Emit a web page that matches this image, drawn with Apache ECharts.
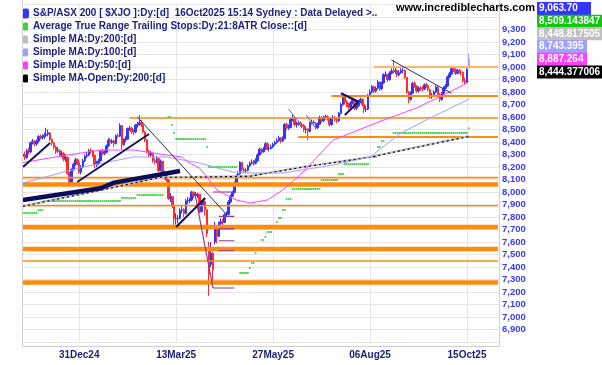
<!DOCTYPE html>
<html><head><meta charset="utf-8">
<script src="https://cdn.jsdelivr.net/npm/echarts@6/dist/echarts.min.js"></script>
<style>html,body{margin:0;padding:0;background:#fff}#c{width:602px;height:365px}</style>
</head><body><div id="c"></div>
<script>
// ---------- DATA ----------
const firstDay = '2024-11-18';
const holidays = ['2024-12-25','2024-12-26','2025-01-01','2025-01-27','2025-04-18','2025-04-21','2025-04-25','2025-06-09'];
const tradingDays = 231;
const emptySlots = 15;

const opens = [8286,8302,8275,8332,8320,8394,8406,8384,8407,8444,
8436,8443,8455,8462,8474,8420,8393,8360,8327,8330,8296,8309,8263,8277,8149,8067,8181,8222,8258,8235,
8159,8201,8250,8286,8295,8330,8329,8294,8219,8230,8249,8327,8310,8318,8370,8415,8397,8409,8388,8450,8447,
8532,8379,8417,8423,8507,8511,8482,8480,8535,8540,8555,8538,8481,8419,8322,8296,8308,8251,8240,8269,
8172,8245,8140,8141,8095,7948,7962,7890,7786,7789,7790,7854,7860,7829,7930,7931,7936,7999,7970,7981,7982,
7843,7925,7925,7859,7540,7420,7510,7600,7710,7646,7749,7762,7758,7819,7820,7920,7968,7997,8071,
8126,8145,8238,8178,8170,8174,8208,8231,8238,8230,8250,8297,8343,8321,8343,8386,8348,8348,8361,8380,8396,8409,
8434,8408,8426,8542,8515,8515,8580,8588,8540,8548,8550,8540,8535,8500,8505,8483,8555,8560,8550,8514,
8542,8597,8570,8596,8603,8590,8539,8590,8596,8580,8570,8630,8700,8757,8720,8700,8680,8710,8740,8670,8690,8720,8742,
8700,8662,8663,8776,8800,8843,8807,8830,8880,8826,8873,8938,8938,8900,8950,8968,8967,8970,8936,8954,8973,
8973,8917,8800,8740,8790,8871,8848,8808,8831,8830,8824,8858,8850,8820,8760,8770,8800,8840,8780,8740,8790,8830,
8848,8920,8945,8987,8980,8950,8970,8960,8958,8890,8880,8990];
const closes = [8302,8275,8332,8320,8394,8406,8384,8407,8444,8436,
8443,8455,8462,8474,8420,8393,8360,8327,8330,8296,8309,8263,8277,8149,8067,8181,8222,8258,8235,8159,
8201,8250,8286,8295,8330,8329,8294,8219,8230,8249,8327,8310,8318,8370,8415,8397,8409,8388,8450,8447,8532,
8379,8417,8423,8507,8511,8482,8480,8535,8540,8555,8538,8481,8419,8322,8296,8308,8251,8240,8269,8172,
8245,8140,8141,8095,7948,7962,7890,7786,7789,7790,7854,7860,7829,7930,7931,7936,7999,7970,7981,7982,7843,
7925,7925,7859,7667,7343,7510,7375,7710,7646,7749,7762,7758,7819,7820,7920,7968,7997,8071,8126,
8145,8238,8178,8170,8174,8208,8231,8238,8230,8250,8297,8343,8321,8343,8386,8348,8348,8361,8380,8396,8409,8434,
8408,8426,8542,8515,8515,8580,8588,8540,8548,8550,8540,8535,8500,8505,8483,8555,8560,8550,8514,8542,
8597,8570,8596,8603,8590,8539,8590,8596,8580,8570,8630,8700,8757,8720,8700,8680,8710,8740,8670,8690,8720,8742,8700,
8662,8663,8776,8800,8843,8807,8830,8880,8826,8873,8938,8938,8900,8950,8968,8967,8970,8936,8954,8973,8973,
8917,8800,8740,8790,8871,8848,8808,8831,8830,8824,8858,8850,8820,8760,8770,8800,8840,8780,8740,8790,8830,8848,
8920,8945,8987,8980,8950,8970,8960,8958,8890,8880,8980,9063.7];
const highs = [8330,8325,8345,8355,8400,8425,8415,8420,8455,8460,
8460,8475,8514,8500,8480,8430,8400,8370,8360,8345,8330,8320,8300,8285,8160,8190,8235,8275,8270,8240,
8215,8265,8300,8320,8345,8350,8335,8300,8250,8265,8335,8345,8335,8380,8430,8430,8425,8420,8460,8470,8550,
8532,8430,8445,8515,8530,8520,8500,8545,8560,8615,8575,8545,8490,8425,8340,8330,8315,8270,8290,8275,
8260,8250,8170,8160,8100,7990,7970,7900,7830,7815,7870,7885,7870,7945,7960,7955,8010,8005,8000,7995,7985,
7935,7950,7930,7865,7600,7600,7520,7760,7720,7760,7790,7785,7830,7845,7935,7980,8010,8085,8140,
8165,8245,8240,8195,8190,8220,8245,8260,8255,8270,8310,8355,8350,8360,8400,8395,8370,8380,8395,8410,8430,8450,
8440,8445,8550,8555,8540,8595,8620,8595,8565,8570,8565,8555,8545,8525,8510,8565,8580,8575,8560,8555,
8610,8605,8610,8620,8615,8595,8600,8615,8610,8595,8640,8715,8776,8765,8735,8715,8725,8755,8745,8705,8735,8755,8748,
8705,8690,8785,8820,8855,8850,8845,8895,8885,8885,8950,8965,8945,8965,8990,9054,8995,8980,8975,8990,8995,
8980,8920,8810,8805,8880,8885,8855,8845,8850,8845,8870,8875,8860,8825,8790,8815,8855,8845,8790,8800,8845,8865,
8930,8960,9010,9000,8990,8985,8985,8980,8965,8915,8990,9110];
const lows = [8260,8255,8265,8300,8310,8380,8365,8370,8395,8420,
8420,8425,8440,8445,8405,8370,8340,8305,8310,8280,8280,8245,8240,8140,8050,8060,8170,8210,8215,8145,
8140,8190,8240,8270,8285,8305,8280,8190,8200,8215,8245,8295,8295,8310,8360,8380,8385,8360,8380,8430,8440,
8340,8370,8400,8420,8490,8465,8455,8470,8515,8530,8520,8470,8400,8310,8280,8280,8235,8220,8230,8160,
8165,8120,8100,8080,7935,7920,7870,7707,7740,7750,7780,7830,7800,7820,7905,7910,7925,7950,7955,7950,7830,
7835,7890,7810,7640,7169,7400,7290,7580,7590,7640,7735,7730,7750,7800,7815,7910,7960,7990,8060,
8115,8140,8165,8150,8150,8165,8200,8220,8210,8220,8240,8290,8305,8315,8335,8335,8325,8340,8350,8370,8385,8400,
8390,8400,8420,8500,8495,8510,8565,8525,8515,8530,8520,8510,8480,8470,8416,8480,8540,8530,8500,8505,
8535,8555,8560,8580,8570,8525,8530,8575,8565,8550,8560,8620,8690,8700,8680,8660,8670,8700,8655,8655,8680,8710,8685,
8630,8640,8655,8765,8790,8790,8795,8820,8810,8815,8865,8920,8880,8890,8940,8950,8945,8920,8925,8945,8950,
8905,8785,8710,8730,8785,8835,8795,8795,8810,8805,8815,8835,8805,8745,8745,8760,8790,8765,8720,8730,8780,8820,
8840,8910,8935,8960,8935,8940,8945,8930,8875,8860,8870,8985];

// ATR trailing stop steps: [fromIndex, toIndex, value]
const atrSteps = [[0,7,7832],[8,10,7856],[11,50,7928],[51,58,7952],[59,72,7976],
[75,76,8600],[77,77,8536],[78,78,8472],[79,94,8424],[95,95,8360],[96,110,8200],
[112,116,7352],[117,117,7392],[118,119,7432],[120,120,7512],[121,122,7552],[123,124,7616],[125,125,7640],
[126,128,7680],[129,130,7712],[131,131,7760],[132,133,7792],[134,135,7856],[136,138,7944],[139,153,8024],
[154,162,8096],[163,165,8144],[166,178,8224],[179,182,8280],[183,184,8360],[185,186,8408],[187,190,8440],
[191,229,8472],[230,230,8509.14]];

// moving averages read at points: [index, value]
const sma200 = [[0,7888],[40,8016],[71,8120],[85,8120],[117,8128],[144,8200],[179,8280],[200,8350],[230,8448.8]];
const smaOpen200 = [[0,7886],[40,8014],[71,8118],[85,8118],[117,8126],[144,8198],[179,8278],[200,8347],[230,8444.4]];
const sma100 = [[0,8072],[31,8200],[57,8280],[74,8280],[91,8232],[108,8160],[117,8152],[134,8152],[160,8216],[179,8280],[195,8472],[208,8576],[230,8743.4]];
const sma50 = [[0,8236],[23,8296],[40,8336],[57,8336],[64,8320],[74,8296],[82,8280],[85,8240],[91,8192],[95,8120],[100,8016],[110,7936],[117,7912],[126,7936],[134,8016],[143,8136],[160,8416],[186,8576],[203,8672],[220,8800],[229,8872],[230,8887.3]];

// horizontal levels: [value, fromIndex]
const heavyLevels = [[8060,0],[7720,0],[7544,0],[7277,0]];
const midLevels = [[8768,159],[8440,142]];
const lightLevels = [[8592,55],[8115,0],[7890,0],[7448,0]];
const topLevels = [[9000,181]];
// retracement
const fibDiag = [[89,7960],[98,7232]];
const fibLevels = [[8000,98],[7805,101],[7705,101],[7610,101],[7530,101],[7232,98]];
const fibEnd = 109;

// trend lines
const thinTrends = [[[59,8600],[105,7820]],[[190,9056],[221,8790]]];
const slateTrends = [[[137,8662],[145,8510]],[[146,8616],[151,8510]]];
const mediumTrends = [[[0,8200],[14,8392]],[[28,8080],[65,8464]],[[79,7720],[94,7952]],[[164,8790],[173,8722]],[[166,8616],[173,8722]]];
const heavyTrend = [[0,7936],[40,8030],[47,8075],[81,8168]];

const legendNames = ['S&P/ASX 200 [ $XJO ]:Dy:[d]  16Oct2025 15:14 Sydney : Data Delayed >..',
 'Average True Range Trailing Stops:Dy:21:8ATR Close::[d]',
 'Simple MA:Dy:200:[d]','Simple MA:Dy:100:[d]','Simple MA:Dy:50:[d]','Simple MA-Open:Dy:200:[d]'];
const lastValues = ['9,063.70','8,509.143847','8,448.817505','8,743.395','8,887.264','8,444.377006'];
const yLabelMin = 6900, yLabelMax = 9300;

// ---------- BUILD ----------
const MON = ['Jan','Feb','Mar','Apr','May','Jun','Jul','Aug','Sep','Oct','Nov','Dec'];
function buildDates(){
  const out=[]; const p=firstDay.split('-');
  const d=new Date(Date.UTC(+p[0],+p[1]-1,+p[2]));
  while(out.length<tradingDays){
    const w=d.getUTCDay(); const s=d.toISOString().slice(0,10);
    if(w!==0&&w!==6&&holidays.indexOf(s)<0) out.push(s);
    d.setUTCDate(d.getUTCDate()+1);
  }
  return out;
}
const dates = buildDates();
const cats = dates.concat(Array.from({length:emptySlots},(_,k)=>'pad'+k));
const lastIdx = cats.length-1;
const labelIdx = i => i>=29 && i<tradingDays && (i-29)%50===0;
const fmtDate = s => { const p=s.split('-'); return p[2]+MON[+p[1]-1]+p[0].slice(2); };

const candleData = closes.map((c,i)=>{
  const v=[opens[i],c,lows[i],highs[i]];
  if(i===closes.length-1) return {value:v,itemStyle:{color:'#a6a6ff',borderColor:'#a6a6ff',color0:'#a6a6ff',borderColor0:'#a6a6ff'}};
  return v;
});
const atrData=[];
atrSteps.forEach(s=>{for(let i=s[0];i<=s[1];i++) atrData.push([i,s[2]]);});

function line(pts,color,width,extra){
  return Object.assign({type:'line',data:pts,symbol:'none',silent:true,animation:false,
    lineStyle:{color:color,width:width},itemStyle:{color:color}},extra||{});
}
const ORANGE='#ff8a10';
const series=[];
heavyLevels.forEach(l=>series.push(line([[l[1],l[0]],[lastIdx,l[0]]],ORANGE,4.5)));
midLevels.forEach(l=>series.push(line([[l[1],l[0]],[lastIdx,l[0]]],ORANGE,2.2)));
lightLevels.forEach(l=>series.push(line([[l[1],l[0]],[lastIdx,l[0]]],ORANGE,1.6)));
topLevels.forEach(l=>series.push(line([[l[1],l[0]],[lastIdx,l[0]]],'#ffb366',1.8)));
series.push(line(fibDiag,'#8c3a8c',1.2));
fibLevels.forEach(l=>series.push(line([[l[1],l[0]],[fibEnd,l[0]]],'#8c3a8c',1.2)));
series.push(line(sma200,'#c0c0c0',2,{name:legendNames[2]}));
series.push(line(smaOpen200,'#000000',1.2,{name:legendNames[5],lineStyle:{color:'#000',width:1.2,type:[2,3]}}));
series.push(line(sma100,'#a0a0ff',1,{name:legendNames[3]}));
series.push(line(sma50,'#ff40ff',1,{name:legendNames[4]}));
series.push({type:'scatter',name:legendNames[1],data:atrData,symbol:'rect',symbolSize:[1.6,1.8],
  itemStyle:{color:'#10c810'},silent:true,animation:false});
series.push({type:'candlestick',name:legendNames[0],data:candleData,barWidth:2,silent:true,animation:false,
  large:false,progressive:0,
  itemStyle:{color:'#3535ff',color0:'#ff2e2e',borderColor:'#3535ff',borderColor0:'#ff2e2e',borderWidth:1}});
thinTrends.forEach(t=>series.push(line(t,'#2c2c68',1)));
slateTrends.forEach(t=>series.push(line(t,'#6a6ab4',1)));
mediumTrends.forEach(t=>series.push(line(t,'#12125e',2)));
series.push(line(heavyTrend,'#0c0c5c',4.5));

const legendColors=['#3535ff','#10c810','#c0c0c0','#a0a0ff','#ff40ff','#000000'];
const boxColors=['#3535ff','#10c810','#c0c0c0','#a0a0ff','#ff40ff','#000000'];
const boxWidths=[54,65,65,50,50,65];

const graphics=[
  {type:'polyline',silent:true,z:50,shape:{points:[[22.5,0],[22.5,346.5],[499.5,346.5],[499.5,0]]},style:{stroke:'#d0d0d0',fill:null,lineWidth:1}},
  {type:'text',silent:true,z:60,x:396,y:8,style:{text:'www.incrediblecharts.com',font:'bold 11px Arial',fill:'#000',verticalAlign:'middle'}}
];
lastValues.forEach((t,k)=>{
  const y0=2+k*12.7;
  graphics.push({type:'rect',silent:true,z:59,shape:{x:537,y:y0,width:boxWidths[k],height:12.9},style:{fill:boxColors[k]}});
  graphics.push({type:'text',silent:true,z:60,x:539,y:y0+6.6,style:{text:t,font:'bold 10px Arial',fill:'#fff',verticalAlign:'middle'}});
});

const chart=echarts.init(document.getElementById('c'),null,{renderer:'canvas'});
chart.setOption({
  animation:false,
  backgroundColor:'#fff',
  grid:{left:22,right:103,top:4.5,bottom:23,containLabel:false},
  legend:{data:legendNames.map((n,k)=>({name:n,icon:'roundRect',itemStyle:{color:legendColors[k]}})),
    orient:'vertical',left:17,top:2,itemWidth:5,itemHeight:8,itemGap:0,selectedMode:false,
    textStyle:{fontSize:10,fontWeight:'bold',fontFamily:'Arial',color:'#22227c',lineHeight:13,padding:0}},
  xAxis:{type:'category',data:cats,boundaryGap:true,
    axisLine:{show:false},axisTick:{show:false},
    axisLabel:{interval:(i)=>labelIdx(i),formatter:(v)=>v.indexOf('pad')===0?'':fmtDate(v),margin:8,
      fontSize:10,fontWeight:'bold',fontFamily:'Arial',color:'#1c1c72'},
    splitLine:{show:true,interval:(i)=>labelIdx(i),alignWithLabel:true,lineStyle:{color:'#e6e6e6',width:1}}},
  yAxis:{type:'value',position:'right',min:6800,max:9500,interval:100,scale:true,
    axisLine:{show:false},axisTick:{show:false},
    axisLabel:{margin:3,fontSize:9.5,fontWeight:'bold',fontFamily:'Arial',color:'#3a3af2',padding:[3,0,0,0],
      formatter:(v)=>(v>=yLabelMin&&v<=yLabelMax)?v.toLocaleString('en-US'):''},
    splitLine:{show:true,lineStyle:{color:'#e6e6e6',width:1}}},
  series:series,
  graphic:graphics
});
</script></body></html>
